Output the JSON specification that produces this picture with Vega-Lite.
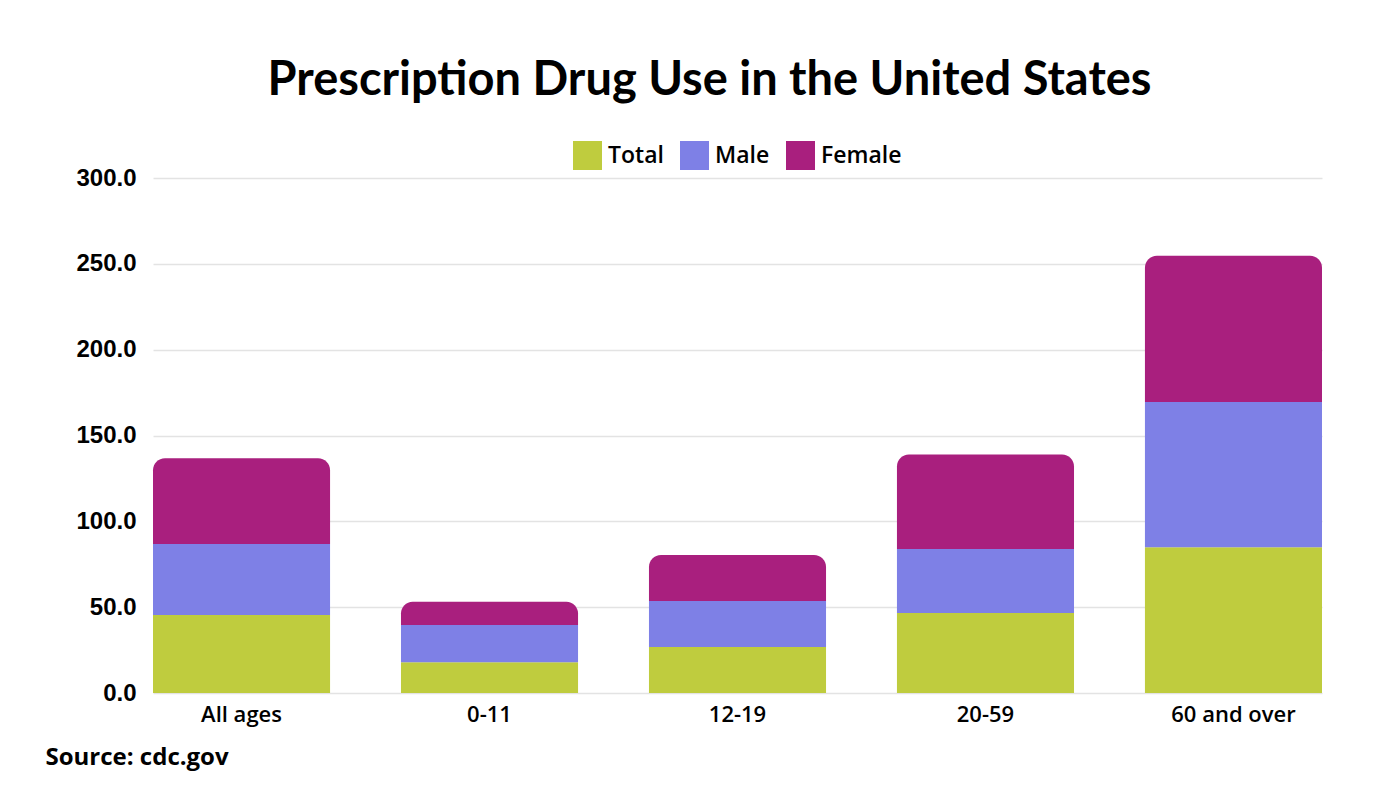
{
  "$schema": "https://vega.github.io/schema/vega-lite/v6.json",
  "autosize": "none",
  "width": 1169,
  "height": 515,
  "padding": {"left": 153, "top": 178, "right": 78, "bottom": 95},
  "background": "white",
  "title": {
    "text": "Prescription Drug Use in the United States",
    "font": "Lato",
    "fontSize": 47,
    "fontWeight": "bold",
    "color": "#000000",
    "anchor": "middle",
    "dx": -28,
    "offset": 36
  },
  "data": {
    "values": [
      {"age": "All ages", "series": "Total", "value": 45.4},
      {"age": "All ages", "series": "Male", "value": 41.4},
      {"age": "All ages", "series": "Female", "value": 49.9},
      {"age": "0-11", "series": "Total", "value": 17.9},
      {"age": "0-11", "series": "Male", "value": 21.7},
      {"age": "0-11", "series": "Female", "value": 13.6},
      {"age": "12-19", "series": "Total", "value": 26.8},
      {"age": "12-19", "series": "Male", "value": 26.8},
      {"age": "12-19", "series": "Female", "value": 26.8},
      {"age": "20-59", "series": "Total", "value": 46.6},
      {"age": "20-59", "series": "Male", "value": 37.3},
      {"age": "20-59", "series": "Female", "value": 55.1},
      {"age": "60 and over", "series": "Total", "value": 84.9},
      {"age": "60 and over", "series": "Male", "value": 84.6},
      {"age": "60 and over", "series": "Female", "value": 85.2}
    ]
  },
  "transform": [
    {"stack": "value", "groupby": ["age"], "sort": [{"field": "series", "order": "descending"}], "as": ["y0", "y1"]}
  ],
  "encoding": {
    "x": {
      "field": "age",
      "type": "nominal",
      "sort": ["All ages", "0-11", "12-19", "20-59", "60 and over"],
      "scale": {"paddingInner": 0.286, "paddingOuter": 0},
      "axis": {
        "title": "Source: cdc.gov",
        "titleFont": "Open Sans",
        "titleFontSize": 24,
        "titleFontWeight": "bold",
        "titleColor": "#000000",
        "titleAnchor": "start",
        "titleAlign": "left",
        "titleBaseline": "middle",
        "titleX": -108,
        "titleY": 64,
        "labelAngle": 0,
        "labelFont": "Open Sans",
        "labelFontSize": 22,
        "labelFontWeight": 600,
        "labelColor": "#000000",
        "labelPadding": 11,
        "ticks": false,
        "domain": false
      }
    },
    "y": {
      "field": "y1",
      "type": "quantitative",
      "scale": {"domain": [0, 300], "nice": false},
      "axis": {
        "title": null,
        "values": [0, 50, 100, 150, 200, 250, 300],
        "format": ".1f",
        "labelFont": "Liberation Sans",
        "labelFontSize": 24,
        "labelFontWeight": "bold",
        "labelColor": "#000000",
        "labelPadding": 17,
        "ticks": false,
        "domain": false,
        "gridColor": "#e3e3e3",
        "gridWidth": 1.5
      }
    },
    "y2": {"field": "y0"},
    "color": {
      "field": "series",
      "type": "nominal",
      "scale": {"domain": ["Total", "Male", "Female"], "range": ["#bfcc3e", "#7e80e6", "#a91f7e"]},
      "legend": {
        "title": null,
        "orient": "none",
        "legendX": 420,
        "legendY": -37,
        "direction": "horizontal",
        "symbolType": "square",
        "symbolSize": 841,
        "symbolStrokeWidth": 0,
        "symbolOpacity": 1,
        "labelFont": "Open Sans",
        "labelFontSize": 23,
        "labelFontWeight": 600,
        "labelColor": "#000000",
        "labelOffset": 6,
        "columnPadding": 16
      }
    }
  },
  "layer": [
    {
      "transform": [{"filter": "datum.series !== 'Female'"}],
      "mark": {"type": "bar"}
    },
    {
      "transform": [{"filter": "datum.series === 'Female'"}],
      "mark": {"type": "bar", "cornerRadiusTopLeft": 12, "cornerRadiusTopRight": 12}
    }
  ],
  "config": {"view": {"stroke": null}}
}
